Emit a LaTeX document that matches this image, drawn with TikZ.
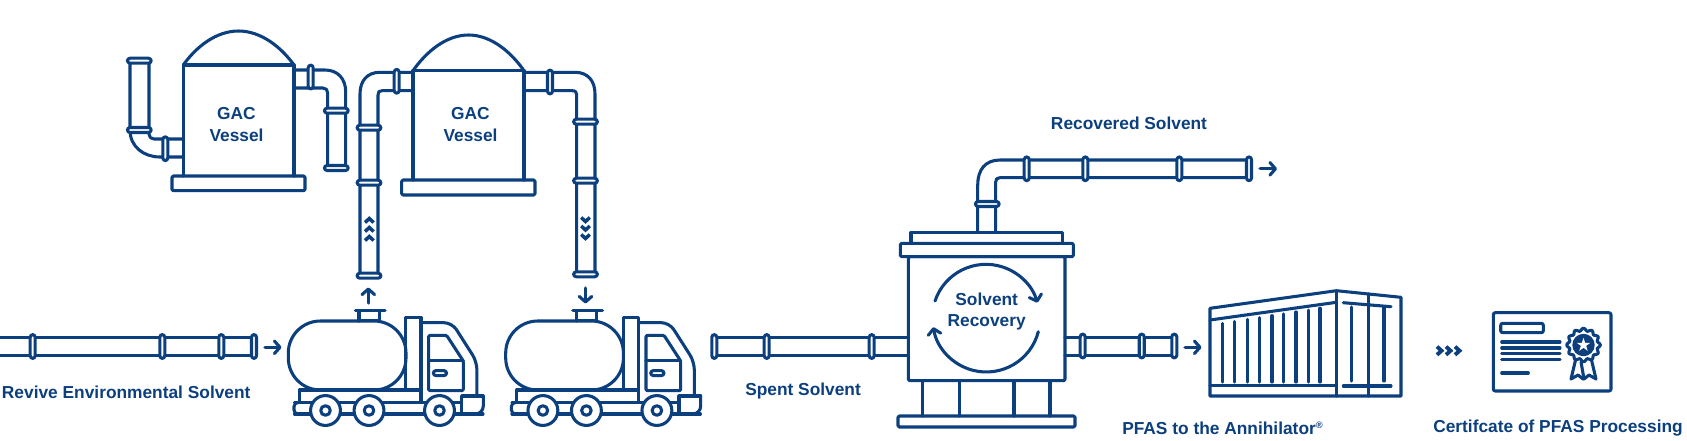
\documentclass[tikz,border=0pt]{standalone}
\usepackage{fontspec}
\setmainfont{Liberation Sans}
\usetikzlibrary{arrows.meta}
\definecolor{navy}{HTML}{0B3F7E}
\tikzset{
  ln/.style={draw=navy,line width=2.3pt,line join=round,line cap=round},
  flange/.style={ln,fill=white,rounded corners=2pt},
  chev/.style={draw=navy,line width=2.6pt,line join=miter},
  arw/.style={ln,-{Straight Barb[length=4.2pt,width=9.5pt,line width=2.3pt,round]}},
  lbl/.style={text=navy,font=\bfseries\fontsize{13pt}{14pt}\selectfont,inner sep=0pt},
  vlbl/.style={lbl,align=center}
}
% vertical-standing flange at x,y (on a horizontal pipe)
\newcommand\vfl[2]{\draw[flange] (#1-2.5,#2-11.9) rectangle (#1+2.5,#2+11.9);}
% horizontal-lying flange at x,y (on a vertical pipe)
\newcommand\hfl[2]{\draw[flange] (#1-11.9,#2-2.5) rectangle (#1+11.9,#2+2.5);}
\newcommand\truck{
  \draw[ln,rounded corners=24pt] (288.3,321) rectangle (406,390);
  \draw[ln,line width=2.6pt] (355.5,310.5) -- (385,310.5);
  \draw[ln] (359,311) -- (359,321) (379.3,311) -- (379.3,321);
  \draw[ln] (359,320.5) -- (379.3,320.5);
  \draw[ln] (405.7,390) -- (405.7,317.3) -- (421,317.3) -- (421,402);
  \draw[ln,rounded corners=6pt] (421,322.7) -- (452,322.7) -- (476.9,361.7) -- (476.9,396);
  \draw[ln] (428.6,360.3) -- (463.3,360.3);
  \draw[ln,rounded corners=1pt] (428.6,335.3) -- (446.6,335.3) -- (463.3,361) -- (463.3,390.7) -- (428.6,390.7) -- cycle;
  \draw[ln,rounded corners=2pt] (433.3,370.6) rectangle (446.6,375.6);
  \draw[ln] (299.3,402) -- (299.3,390) -- (421,390);
  \draw[ln] (294.5,402.5) -- (461.6,402.5);
  \draw[ln] (294.5,414) -- (483,414);
  \draw[ln,rounded corners=3pt] (299,402.5) -- (294,402.5) -- (294,414) -- (299,414);
  \draw[ln,rounded corners=6pt] (483.3,396) -- (483.3,414) -- (470,414);
  \draw[ln] (461.6,414) -- (461.6,396) -- (483.3,396);
  \foreach \wx in {325.5,369,439.5}{
    \draw[ln,fill=white] (\wx,410.5) circle[radius=11.2pt];
    \draw[ln,fill=white] (\wx,410.5) circle[radius=3.6pt];
  }
}
\begin{document}
\begin{tikzpicture}[x=.75pt,y=-.75pt]
\useasboundingbox[fill=white] (0,0) rectangle (1687,440);

%% ---------- GAC vessel 1
\draw[ln] (183.3,176) -- (183.3,65) -- (294,65) -- (294,176);
\draw[ln] (183.3,65) .. controls (196,47) and (216,31) .. (238.5,31) .. controls (261,31) and (281,47) .. (294,65);
\draw[ln,rounded corners=1pt] (172,176) rectangle (305,190.7);
\node[vlbl] (gac1) at (236.5,124.5) {GAC\\[2.4pt]Vessel};
% left pipe
\draw[ln] (130,60.7) -- (130,130) .. controls (130,147) and (144,157) .. (160,157) -- (183.3,157);
\draw[ln] (149,60.7) -- (149,134) .. controls (149,137) and (151,139) .. (154,139) -- (183.3,139);
\vfl{165.3}{148.7}
\hfl{139.3}{60.7}
\hfl{139.3}{130}
% right pipe
\draw[ln] (294,70) -- (325,70) .. controls (338,70) and (345.7,79) .. (345.7,92) -- (345.7,168);
\draw[ln] (294,88) -- (323,88) .. controls (326,88) and (327.7,90) .. (327.7,93) -- (327.7,168);
\vfl{310.7}{77}
\hfl{336.3}{110.7}
\hfl{336.3}{168}

%% ---------- GAC vessel 2
\draw[ln] (413,180) -- (413,70.7) -- (524,70.7) -- (524,180);
\draw[ln] (413,70.7) .. controls (426,52) and (446,35) .. (468.5,35) .. controls (491,35) and (511,52) .. (524,70.7);
\draw[ln,rounded corners=1pt] (401.7,180) rectangle (535,195);
\node[vlbl] (gac2) at (470.5,124.5) {GAC\\[2.4pt]Vessel};
% left riser
\draw[ln] (413,72.3) -- (380,72.3) .. controls (367,72.3) and (360,81) .. (360,94) -- (360,275.7);
\draw[ln] (413,90.7) -- (382,90.7) .. controls (379,90.7) and (378,92) .. (378,95) -- (378,275.7);
\vfl{396.7}{81.3}
\hfl{369}{127.7}
\hfl{369}{182.7}
\hfl{369}{275.7}
% right downcomer
\draw[ln] (524,72.3) -- (575,72.3) .. controls (588,72.3) and (595,81) .. (595,94) -- (595,274.3);
\draw[ln] (524,90.7) -- (572,90.7) .. controls (575.5,90.7) and (576.7,92) .. (576.7,95) -- (576.7,274.3);
\vfl{550}{82}
\hfl{585.5}{121.7}
\hfl{585.5}{180.7}
\hfl{585.5}{274.3}
% chevrons in the pipes
\foreach \cy in {220,229,238}{
  \draw[chev] (365,\cy+2.5) -- (369.3,\cy-1.5) -- (373.6,\cy+2.5);
}
\foreach \cy in {220,228.5,237}{
  \draw[chev] (581.2,\cy-2.5) -- (585.5,\cy+1.5) -- (589.8,\cy-2.5);
}

%% ---------- inlet pipe
\draw[ln] (0,337.3) -- (254,337.3) (0,355.7) -- (254,355.7);
\foreach \fx in {32.7,162.3,221.3,254}{\vfl{\fx}{346.5}}
\coordinate (in a) at (265,347.3);
\coordinate (in b) at (281.5,347.3);
\draw[arw] (in a) -- (in b);
\node[lbl,anchor=west] (revive) at (1.7,392.5) {Revive Environmental Solvent};

%% ---------- trucks
\truck
\begin{scope}[shift={(217.4,0)}]
\truck
\end{scope}
\coordinate (up a) at (368.3,303);
\coordinate (up b) at (368.3,287.5);
\draw[arw] (up a) -- (up b);
\coordinate (dn a) at (585.5,288);
\coordinate (dn b) at (585.5,303.5);
\draw[arw] (dn a) -- (dn b);

%% ---------- spent solvent pipe
\draw[ln] (714.3,337.3) -- (908.3,337.3) (714.3,355.5) -- (908.3,355.5);
\foreach \fx in {714.3,766.7,871.7}{\vfl{\fx}{346.5}}
\node[lbl,anchor=west] (spent) at (745,391.5) {Spent Solvent};

%% ---------- solvent recovery unit
\draw[ln,rounded corners=1pt] (908.3,256.7) rectangle (1065,380.7);
\draw[ln,rounded corners=1pt] (900.3,243.3) rectangle (1073.3,256.7);
\draw[ln] (911,243.3) -- (911,232.3) -- (1062.7,232.3) -- (1062.7,243.3);
\foreach \lx in {922.3,959.3,1014,1050}{\draw[ln] (\lx,380.7) -- (\lx,416);}
\draw[ln,rounded corners=1pt] (898,416) rectangle (1075,427);
\draw[arw] (935,301) arc[start angle=161.5,end angle=16.7,radius=40.3pt];
\draw[arw] (1038.3,331.7) arc[start angle=-14.5,end angle=-170.4,radius=40.3pt];
\node[vlbl] (recov) at (986.7,311.5) {Solvent\\[2pt]Recovery};

%% recovered pipe
\draw[ln] (977.7,232.3) -- (977.7,185) .. controls (977.7,170) and (985,160) .. (1000,160) -- (1249,160);
\draw[ln] (995.7,232.3) -- (995.7,182) .. controls (995.7,179) and (997,177.7) .. (1000,177.7) -- (1249,177.7);
\hfl{987.3}{204}
\foreach \fx in {1026.7,1085.3,1179.3,1249}{\vfl{\fx}{168.8}}
\coordinate (rc a) at (1260,168.8);
\coordinate (rc b) at (1277,168.8);
\draw[arw] (rc a) -- (rc b);
\node[lbl] (recovered) at (1129,123.5) {Recovered Solvent};

%% outlet pipe
\draw[ln] (1065,337.3) -- (1174.3,337.3) (1065,355.5) -- (1174.3,355.5);
\foreach \fx in {1082.7,1141.7,1174.3}{\vfl{\fx}{346}}
\coordinate (out a) at (1185,347.3);
\coordinate (out b) at (1201.5,347.3);
\draw[arw] (out a) -- (out b);

%% ---------- container
\draw[ln] (1210,396) -- (1210,308.3) -- (1336.4,290.7) -- (1401,297.3) -- (1401,396) -- cycle;
\draw[ln] (1210,320) -- (1336.4,302.3);
\draw[ln] (1336.4,290.7) -- (1336.4,396);
\draw[ln] (1368.7,294) -- (1368.7,396);
\draw[ln] (1210,385.7) -- (1336.4,385.7);
\foreach \rx in {1222.7,1234.3,1247.3,1259.3,1272,1283.7,1296,1308.3,1320}{
  \draw[ln] (\rx,{323.3-0.155*(\rx-1222.7)}) -- (\rx,382);
}
\draw[ln] (1343.3,302.7) -- (1391,306.7);
\draw[ln] (1343.3,386) -- (1391,386);
\draw[ln] (1351.7,307) -- (1351.7,381);
\draw[ln] (1384,307) -- (1384,381);
\node[lbl,anchor=west] (pfas) at (1122,428) {PFAS to the Annihilator\textsuperscript{\fontsize{7pt}{8pt}\selectfont ®}};

%% ---------- chevrons
\foreach \cx in {1437,1446,1455}{
  \draw[chev,line width=2.9pt] (\cx,346.6) -- (\cx+4.5,350.7) -- (\cx,354.8);
}

%% ---------- certificate
\draw[ln,rounded corners=1.5pt] (1493.3,312.7) rectangle (1611,391);
\draw[ln,rounded corners=1.5pt] (1500.7,323.3) rectangle (1543.3,332.7);
\foreach \ly in {342,348,353.7,359.3}{\draw[ln] (1501.7,\ly) -- (1560,\ly);}
\draw[ln] (1501.7,373) -- (1528.3,373);
% ribbon
\draw[ln,fill=white] (1576,358) -- (1571,379) -- (1578,375) -- (1583,379) -- (1586,362);
\draw[ln,fill=white] (1591,358) -- (1596,379) -- (1589,375) -- (1584,379) -- (1581,362);
% seal
\draw[ln,fill=white,smooth] plot[domain=0:360,samples=97] ({1583.5+(15.5+1.3*cos(12*\x))*cos(\x)},{345+(15.5+1.3*cos(12*\x))*sin(\x)}) -- cycle;
\fill[navy] (1583.5,345) circle[radius=8.4pt];
\fill[white] plot[samples at={90,162,234,306,18}] ({1583.5+7.2*cos(2*\x-90)},{345-7.2*sin(2*\x-90)}) -- cycle;
\node[lbl,anchor=west] (cert) at (1433,428.5) {Certifcate of PFAS Processing};
\end{tikzpicture}
\end{document}
